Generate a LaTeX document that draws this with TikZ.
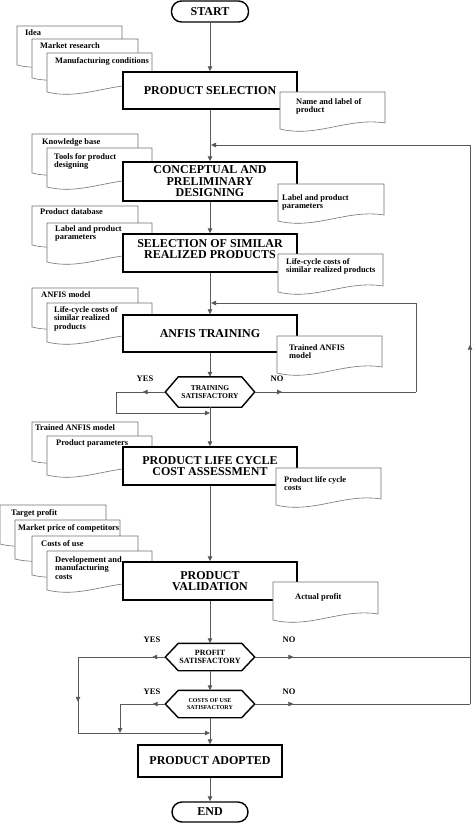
\documentclass[tikz,border=0pt]{standalone}
\usepackage{fontspec}
\setmainfont{Liberation Serif}
\usetikzlibrary{arrows.meta,decorations.markings,calc}

\tikzset{
  conn/.style={draw=black!65, line width=0.8pt},
  tip/.style={-{Triangle[length=5pt,width=4.5pt]}},
  midarr/.style={postaction={decorate},decoration={markings,mark=at position #1 with {\arrow{Triangle[length=5pt,width=4.5pt]}}}},
  mainbox/.style={draw=black, line width=1.4pt, fill=white, minimum width=174pt, inner sep=0pt, align=center, font=\fontsize{12}{11.5}\selectfont\bfseries},
  boxtext/.style={inner sep=0pt, align=center, font=\fontsize{12}{11.5}\selectfont\bfseries},
  term/.style={draw=black, line width=1.4pt, fill=white, rounded corners=10pt, minimum width=77pt, minimum height=21pt, inner sep=0pt, font=\fontsize{12}{12}\selectfont\bfseries},
  hexn/.style={minimum width=89pt, minimum height=27pt, inner sep=0pt, align=center, font=\fontsize{7.5}{8}\selectfont\bfseries},
  hexline/.style={draw=black, line width=1.4pt},
  docline/.style={draw=black!55, line width=0.6pt, fill=white},
  doctext/.style={anchor=north west, inner sep=0pt, align=left, font=\fontsize{8.4}{8.4}\selectfont\bfseries},
  yn/.style={inner sep=0pt, font=\fontsize{8.5}{8.5}\selectfont\bfseries},
}

% name, x0, y0, x1, h, text x, text first-line centre y, text
\newcommand\mydoc[8]{%
  \draw[docline] ({#2},{#3}) -- ({#4},{#3}) -- ({#4},{#3+#5-6})
    .. controls ({#2+0.65*(#4-#2)},{#3+#5-12}) and ({#2+0.35*(#4-#2)},{#3+#5+9}) .. ({#2},{#3+#5}) -- cycle;
  \node[doctext] (#1) at ({#6},{#7-3.7}) {#8};
}
\newcommand\myhex[1]{%
  \draw[hexline] (#1.west) -- ([xshift=13pt]#1.north west) -- ([xshift=-13pt]#1.north east)
    -- (#1.east) -- ([xshift=-13pt]#1.south east) -- ([xshift=13pt]#1.south west) -- cycle;
}

\begin{document}
\begin{tikzpicture}[x=1pt,y=-1pt]
\fill[white] (0,0) rectangle (474,823);
\useasboundingbox (0,0) rectangle (474,823);

% START
\node[term] (start) at (210,11.5) {START};

% group 1
\mydoc{d1a}{17}{26}{122}{39}{25}{33}{Idea}
\mydoc{d1b}{32}{39}{138}{39}{40}{46}{Market research}
\mydoc{d1c}{47}{53}{152}{39}{55}{61}{Manufacturing conditions}
\node[mainbox, minimum height=37pt] (ps) at (210,90.5) {PRODUCT SELECTION};
\mydoc{d1r}{280}{92}{385}{37}{296}{102}{Name and label of\\product}

% group 2
\mydoc{d2a}{32}{134}{138}{39}{42}{142}{Knowledge base}
\mydoc{d2b}{47}{148}{152}{39}{54}{157}{Tools for product\\designing}
\node[mainbox, minimum height=39pt] (cpd) at (210,181.5) {CONCEPTUAL AND\\PRELIMINARY\\DESIGNING};
\mydoc{d2r}{278}{184}{384}{37}{282}{198}{Label and product\\parameters}

% group 3
\mydoc{d3a}{32}{206}{138}{39}{40}{212}{Product database}
\mydoc{d3b}{47}{223}{152}{39}{55}{229}{Label and product\\parameters}
\node[mainbox, minimum height=38pt] (ssrp) at (210,253) {};
\node[boxtext] (ssrpt) at (210,249) {SELECTION OF SIMILAR\\REALIZED PRODUCTS};
\mydoc{d3r}{278}{254}{383}{38}{286}{262}{Life-cycle costs of\\similar realized products}

% group 4
\mydoc{d4a}{32}{288}{138}{39}{41}{295}{ANFIS model}
\mydoc{d4b}{47}{303}{152}{39}{54}{310}{Life-cycle costs of\\similar realized\\products}
\node[mainbox, minimum height=37pt] (anfis) at (210,333.5) {ANFIS TRAINING};
\mydoc{d4r}{277}{336}{382}{37}{289}{348}{Trained ANFIS\\model}

% training decision
\node[hexn, minimum height=30pt] (tsat) at (210,392) {TRAINING\\SATISFACTORY};
\myhex{tsat}

% group 5
\mydoc{d5a}{32}{422}{138}{39}{35}{428}{Trained ANFIS model}
\mydoc{d5b}{47}{436}{152}{39}{56}{443}{Product parameters}
\node[mainbox, minimum height=38pt] (plcca) at (210,466) {PRODUCT LIFE CYCLE\\COST ASSESSMENT};
\mydoc{d5r}{276}{468}{381}{37}{284}{480}{Product life cycle\\costs}

% group 6
\mydoc{d6a}{0}{505}{106}{39}{11}{513}{Target profit}
\mydoc{d6b}{15}{520}{120}{39}{18}{528}{Market price of competitors}
\mydoc{d6c}{32}{536}{138}{39}{41}{544}{Costs of use}
\mydoc{d6d}{47}{551}{152}{39}{55}{560}{Developement and\\manufacturing\\costs}
\node[mainbox, minimum height=38pt] (pv) at (210,581) {PRODUCT\\VALIDATION};
\mydoc{d6r}{273}{582}{378}{38}{295}{597}{Actual profit}

% decisions
\node[hexn, font=\fontsize{8}{8.5}\selectfont\bfseries] (psat) at (210,657) {PROFIT\\SATISFACTORY};
\myhex{psat}
\node[hexn, font=\fontsize{6}{7}\selectfont\bfseries] (csat) at (210,704) {COSTS OF USE\\SATISFACTORY};
\myhex{csat}

% adopted, end
\node[mainbox, minimum width=144pt, minimum height=32pt] (pa) at (210,761) {PRODUCT ADOPTED};
\node[term, minimum width=76pt, minimum height=20pt] (end) at (210,812) {END};

% main flow
\draw[conn,tip] (start.south) -- (ps.north);
\draw[conn,tip] (ps.south) -- (cpd.north);
\draw[conn,tip] (cpd.south) -- (ssrp.north);
\draw[conn,tip] (ssrp.south) -- (anfis.north);
\draw[conn,tip] (anfis.south) -- (tsat.north);
\draw[conn,tip] (tsat.south) -- (plcca.north);
\draw[conn,tip] (plcca.south) -- (pv.north);
\draw[conn,tip] (pv.south) -- (psat.north);
\draw[conn,tip] (psat.south) -- (csat.north);
\draw[conn,tip] (csat.south) -- (pa.north);
\draw[conn,tip] (pa.south) -- (end.north);

% training branches
\coordinate (tyL) at (116,392);
\coordinate (tyB) at (116,413);
\coordinate (tj) at (210,413);
\draw[conn,midarr=0.46] (tsat.west) -- (tyL);
\draw[conn,tip] (tyL) -- (tyB) -- (tj);
\coordinate (tnR) at (416,392);
\coordinate (tnT) at (416,303);
\coordinate (fb2) at (211,303);
\draw[conn,midarr=0.17] (tsat.east) -- (tnR);
\draw[conn,tip] (tnR) -- (tnT) -- (fb2);

% profit branches
\coordinate (pyL) at (78,657);
\coordinate (pyB) at (78,733);
\coordinate (aj) at (210,733);
\draw[conn,midarr=0.15] (psat.west) -- (pyL);
\draw[conn,midarr=0.59] (pyL) -- (pyB);
\draw[conn,tip] (pyB) -- (aj);
\coordinate (pnR) at (470,657);
\coordinate (pnT) at (470,145);
\coordinate (fb1) at (211,145);
\draw[conn,midarr=0.18] (psat.east) -- (pnR);
\draw[conn,midarr=0.61] (pnR) -- (pnT);
\draw[conn,tip] (pnT) -- (fb1);

% costs branches
\coordinate (cyL) at (120,704);
\coordinate (cyB) at (120,733);
\draw[conn,midarr=0.28] (csat.west) -- (cyL);
\draw[conn,tip] (cyL) -- (cyB);
\coordinate (cnR) at (470,704);
\draw[conn,midarr=0.18] (csat.east) -- (cnR);
\draw[conn] (cnR) -- (pnR);

% labels
\node[yn] (ty) at (145,379) {YES};
\node[yn] (tn) at (277,379) {NO};
\node[yn] (py) at (152,640) {YES};
\node[yn] (pn) at (289,640) {NO};
\node[yn] (cy) at (152,692) {YES};
\node[yn] (cn) at (289,692) {NO};
\end{tikzpicture}
\end{document}
